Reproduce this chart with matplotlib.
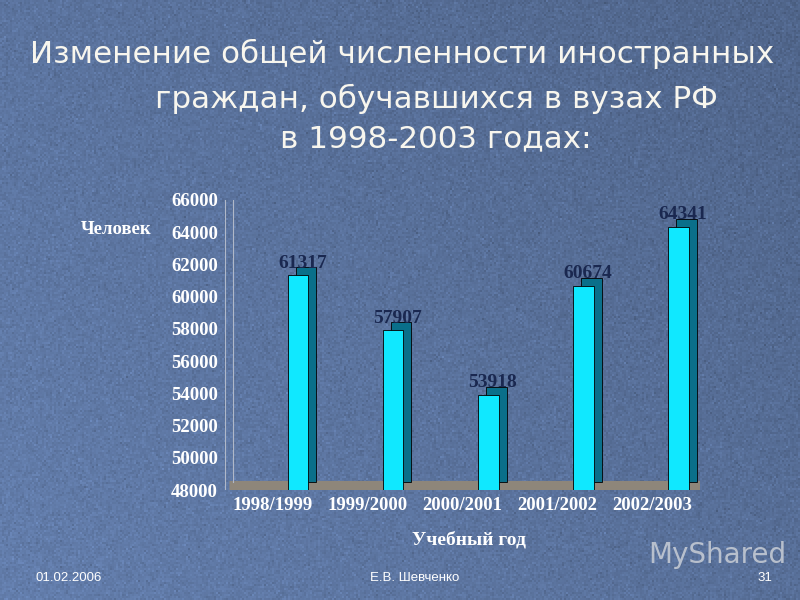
import matplotlib
matplotlib.use("Agg")
import matplotlib.pyplot as plt
import matplotlib.transforms as mtransforms
from matplotlib.patches import Rectangle
import numpy as np

years = ["1998/1999", "1999/2000", "2000/2001", "2001/2002", "2002/2003"]
students = [61317, 57907, 53918, 60674, 64341]
yticks = [48000, 50000, 52000, 54000, 56000, 58000, 60000, 62000, 64000, 66000]

fig = plt.figure(figsize=(8, 6), dpi=100)
bg = fig.add_axes([0, 0, 1, 1], zorder=-10)
gy, gx = np.mgrid[0:1:300j, 0:1:400j]
rng = np.random.default_rng(1)
noise = rng.normal(0, 0.02, gy.shape)
base = 0.42 + 0.06 * (1 - gx) + 0.04 * gy + noise
col = np.dstack([base * 0.75, base * 0.95, base * 1.3]).clip(0, 1)
bg.imshow(col, extent=[0, 1, 0, 1], aspect="auto")
bg.axis("off")

serif = "Liberation Serif"
tc = "#f8f6ee"
fig.text(0.503, 0.91, "Изменение общей численности иностранных", ha="center", va="center",
         color=tc, fontsize=22.3, family="DejaVu Sans")
fig.text(0.546, 0.835, "граждан, обучавшихся в вузах РФ", ha="center", va="center",
         color=tc, fontsize=22.3, family="DejaVu Sans")
fig.text(0.545, 0.768, "в 1998-2003 годах:", ha="center", va="center",
         color=tc, fontsize=22.3, family="DejaVu Sans")

ax = fig.add_axes([0.281, 0.183, 0.594, 0.484])
ax.set_facecolor("none")
ax.set_xlim(-0.5, len(years) - 0.5)
ax.set_ylim(yticks[0], yticks[-1])
ax.set_yticks(yticks)
ax.set_xticks(range(len(years)))
ax.set_xticklabels(years)
for s in ax.spines.values():
    s.set_visible(False)
ax.tick_params(colors="white", labelsize=13.5, length=0, pad=5)
for lab in ax.get_xticklabels() + ax.get_yticklabels():
    lab.set_family(serif); lab.set_fontweight("bold"); lab.set_color("white")

off = mtransforms.ScaledTranslation(8 / 100, 8 / 100, fig.dpi_scale_trans)
half = mtransforms.ScaledTranslation(4 / 100, 4 / 100, fig.dpi_scale_trans)
wall = "#b0b8c8"
ax.plot([-0.5, -0.5], [48000, 66000], color=wall, lw=0.8, transform=ax.transData + off)
ax.plot([-0.5, -0.5], [48000, 66000], color=wall, lw=0.8)
ax.plot([4.5, 4.5], [48000, 66000], color=wall, lw=0.8, transform=ax.transData + off)
ax.plot([-0.5, 4.5], [66000, 66000], color=wall, lw=0.8, transform=ax.transData + off)
ax.plot([-0.5, 4.5], [48000, 48000], color="#8e867a", lw=8,
        transform=ax.transData + half, solid_capstyle="butt", zorder=1)

w = 0.22
shift = 0.27
for i, v in enumerate(students):
    x0 = i + shift - w / 2
    ax.add_patch(Rectangle((x0, 48000), w, v - 48000, facecolor="#0a6f8a", edgecolor="black",
                           lw=0.6, transform=ax.transData + off, zorder=2))
    ax.add_patch(Rectangle((x0, 48000), w, v - 48000, facecolor="#10e8ff", edgecolor="black",
                           lw=0.6, zorder=3))
    ax.text(i + shift + 0.05, v + 200, str(v), ha="center", va="bottom", color="#1a2850",
            fontsize=14, family=serif, fontweight="bold", zorder=4)

fig.text(0.145, 0.617, "Человек", ha="center", va="center", color="white", fontsize=13.5,
         family=serif, fontweight="bold")
fig.text(0.586, 0.1, "Учебный год", ha="center", va="center", color="white", fontsize=14,
         family=serif, fontweight="bold")

fig.text(0.045, 0.037, "01.02.2006", color="white", fontsize=9.5, va="center", family="Liberation Sans")
fig.text(0.518, 0.037, "Е.В. Шевченко", color="white", fontsize=9.5, va="center", ha="center",
         family="Liberation Sans")
fig.text(0.965, 0.037, "31", color="white", fontsize=9.5, va="center", ha="right", family="Liberation Sans")
fig.text(0.81, 0.075, "MyShared", color="#d0d4da", fontsize=20, va="center", family="DejaVu Sans", alpha=0.8)

fig.savefig("out.png", dpi=100)
